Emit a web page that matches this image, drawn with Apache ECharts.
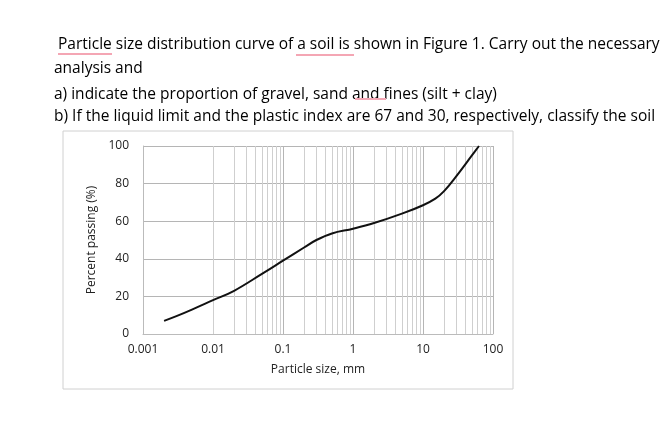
<!DOCTYPE html><html><head><meta charset="utf-8">
<script src="https://cdn.jsdelivr.net/npm/echarts@6/dist/echarts.min.js"></script>
<style>html,body{margin:0;padding:0;background:#fff}#c{width:671px;height:438px}</style></head><body><div id="c"></div>
<script>
const sizes=[0.002,0.003,0.005,0.01,0.02,0.05,0.1,0.2,0.3,0.5,1,2,5,10,15,20,30,50,63];
const passing=[7,9.5,13,18,23,32,39,46,50,53.5,56,59,64,68.5,72,76,84,95,100];
const xTickLabels=['0.001','0.01','0.1','1','10','100'];
const textLines=[
 'Particle size distribution curve of a soil is shown in Figure 1. Carry out the necessary',
 'analysis and',
 'a) indicate the proportion of gravel, sand and fines (silt + clay)',
 'b) If the liquid limit and the plastic index are 67 and 30, respectively, classify the soil'];
const minorX=[];for(let d=0.001;d<90;d*=10){for(let k=2;k<=9;k++)minorX.push(+(d*k).toPrecision(3));}
const chart=echarts.init(document.getElementById('c'));
const font='Open Sans';
const tx=[58,54,54,54], ty=[45,69,95,117];
const g=textLines.map((t,i)=>({type:'text',x:tx[i],y:ty[i],style:{text:t,font:'15.5px "Open Sans"',fill:'#000',verticalAlign:'middle'}}));
[[58,52,54],[296,53,58],[355,97,31]].forEach(a=>g.push({type:'rect',shape:{x:a[0],y:a[1]+1,width:a[2],height:2},style:{fill:'#f4a6b4'}}));
g.push({type:'rect',shape:{x:63,y:131,width:450,height:258},style:{fill:'none',stroke:'#d0d0d0',lineWidth:1}});
chart.setOption({
 animation:false,
 grid:{left:143,right:178,top:146,bottom:104},
 graphic:g,
 xAxis:{type:'log',min:0.001,max:100,logBase:10,
  axisLine:{show:true,lineStyle:{color:'#bbb'}},axisTick:{show:false},
  splitLine:{show:true,lineStyle:{color:'#b5b5b5'}},
  axisLabel:{color:'#222',fontSize:12,fontFamily:font,margin:10,formatter:v=>String(+v.toPrecision(3))},
  name:'Particle size, mm',nameLocation:'middle',nameGap:30,nameTextStyle:{color:'#222',fontSize:12,fontFamily:font}},
 yAxis:{type:'value',min:0,max:100,interval:20,
  axisLine:{show:true,lineStyle:{color:'#bbb'}},axisTick:{show:false},
  splitLine:{lineStyle:{color:'#b5b5b5'}},
  axisLabel:{color:'#222',fontSize:12,fontFamily:font,margin:14},
  name:'Percent passing (%)',nameLocation:'middle',nameGap:42,nameTextStyle:{color:'#222',fontSize:12,fontFamily:font}},
 series:[
  {type:'line',data:[],z:1,markLine:{silent:true,symbol:'none',label:{show:false},lineStyle:{color:'#cfcfcf',type:'solid',width:1},data:minorX.map(v=>({xAxis:v}))}},
  {type:'line',data:sizes.map((s,i)=>[s,passing[i]]),smooth:0.4,showSymbol:false,z:5,
  lineStyle:{color:'#111',width:2}}]
});
</script></body></html>
